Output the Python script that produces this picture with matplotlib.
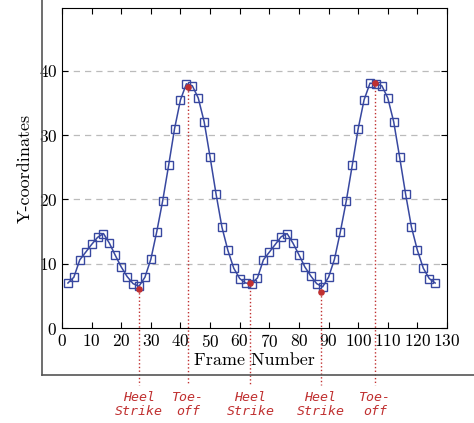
import matplotlib
matplotlib.use("Agg")
import matplotlib.pyplot as plt
from matplotlib.lines import Line2D

frames = list(range(2, 128, 2))
yvals = [7.0, 7.9, 10.6, 11.8, 13.0, 14.1, 14.7, 13.2, 11.3, 9.5, 8.0, 6.9, 6.5, 7.9, 10.7,
         15.0, 19.8, 25.3, 31.0, 35.5, 38.0, 37.7, 35.8, 32.1, 26.6, 20.9, 15.7, 12.1, 9.3,
         7.7, 7.0, 6.9, 7.8, 10.6, 11.8, 13.0, 14.2, 14.7, 13.2, 11.4, 9.5, 8.1, 6.9, 6.4,
         7.9, 10.7, 15.0, 19.8, 25.3, 31.0, 35.5, 38.1, 38.0, 37.7, 35.8, 32.1, 26.6, 20.9,
         15.7, 12.1, 9.3, 7.7, 7.0]
event_x = [26, 42.6, 63.6, 87.3, 105.7]
event_y = [6.0, 37.5, 7.0, 5.6, 38.2]
event_labels = ["Heel\nStrike", "Toe-\noff", "Heel\nStrike", "Heel\nStrike", "Toe-\noff"]
xticks = list(range(0, 140, 10))
yticks = [0, 10, 20, 30, 40]

plt.rcParams['font.family'] = 'serif'
plt.rcParams['font.serif'] = ['cmr10']
plt.rcParams['axes.formatter.use_mathtext'] = True

W, H = 474, 423
fig = plt.figure(figsize=(W/100, H/100), dpi=100)
ax = fig.add_axes([62/W, 1-328/H, (447-62)/W, (328-8)/H])
ax.set_xlim(0, 130)
ax.set_ylim(0, 49.8)
ax.set_xticks(xticks)
ax.set_yticks(yticks)
for y in yticks[1:]:
    ax.axhline(y, color='#bbbbbb', ls=(0, (5, 4)), lw=0.9, zorder=0)
ax.tick_params(direction='in', top=True, right=True, labelsize=12.5, length=4)
blue = '#3848a0'
ax.plot(frames, yvals, color=blue, lw=1.1, marker='s', ms=5.5, mfc='none', mec=blue, mew=1.0, zorder=3)
ax.scatter(event_x, event_y, color='#c03030', s=14, zorder=4)
for spine in ax.spines.values():
    spine.set_linewidth(0.8)
ax.set_xlabel('Frame Number', fontsize=13, labelpad=2)
ax.set_ylabel('Y-coordinates', fontsize=13)

for ex, ey, lab in zip(event_x, event_y, event_labels):
    ax.plot([ex, ex], [ey, -57/6.43], color='#c03030', ls=':', lw=1.0, clip_on=False, zorder=2)
    ax.text(ex, -63/6.43, lab, color='#c03030', ha='center', va='top', fontsize=9.5,
            family='DejaVu Sans Mono', style='italic', linespacing=1.15)

fig.add_artist(Line2D([42/W, 42/W], [1, 1-375/H], color='#555555', lw=1.2))
fig.add_artist(Line2D([42/W, 1], [1-375/H, 1-375/H], color='#555555', lw=1.2))
fig.savefig('out.png', dpi=100)
